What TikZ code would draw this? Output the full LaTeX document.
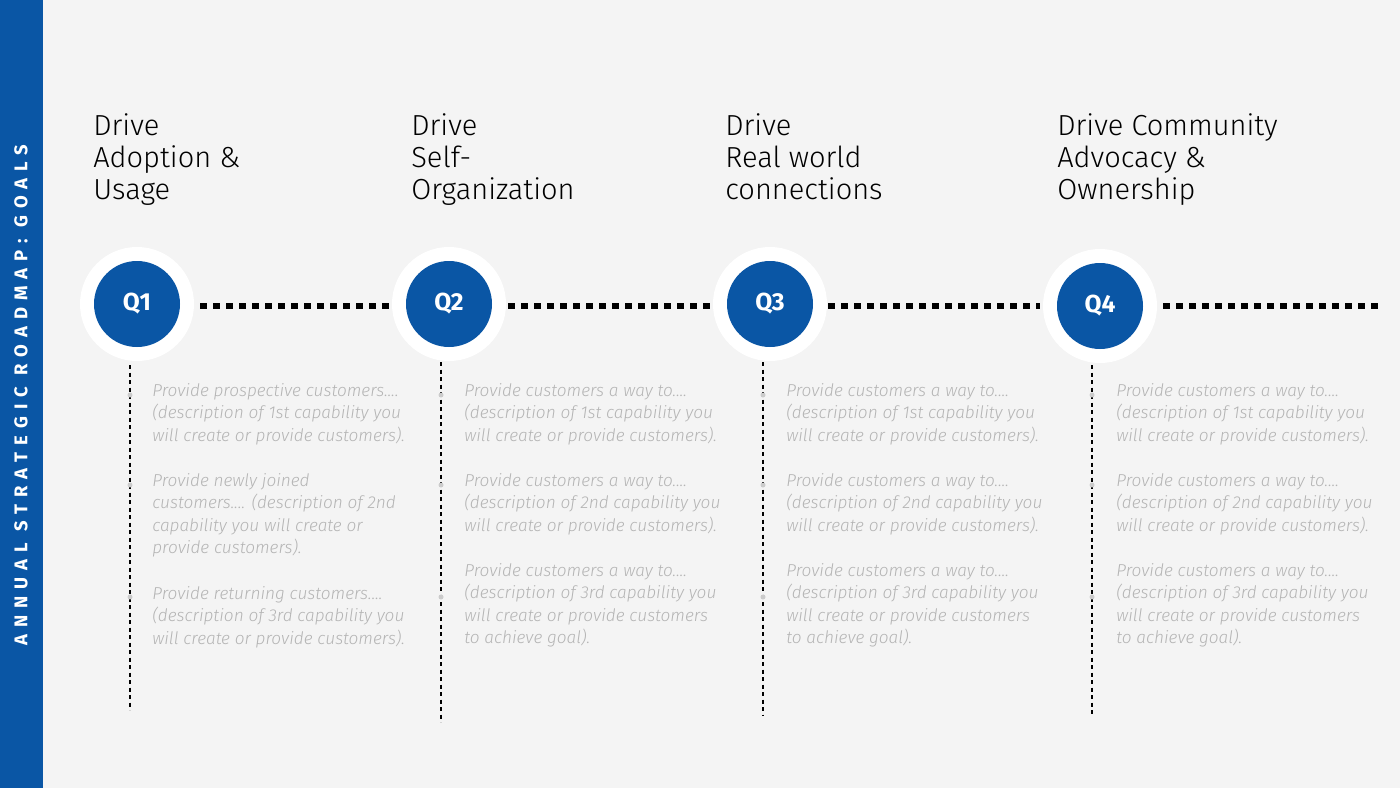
\documentclass[tikz,border=0pt]{standalone}
\usepackage{fontspec}
\setmainfont{Fira Sans Light}
\newfontfamily\sidefont[LetterSpace=38]{Fira Sans Bold}
\newfontfamily\qfont{Fira Sans Bold}
\newfontfamily\bodyfont{Fira Sans Light}
\definecolor{bg}{HTML}{F4F4F4}
\definecolor{navy}{HTML}{0A56A5}
\definecolor{gr}{HTML}{B4B4B4}
\begin{document}
\begin{tikzpicture}[x=0.02cm,y=-0.02cm,
  title/.style={anchor=north west,align=left,font=\fontsize{16.5}{18.2}\selectfont,inner sep=0},
  body/.style={anchor=north west,align=left,text=gr,font=\bodyfont\itshape\fontsize{9.8}{12.8}\selectfont,inner sep=0},
  ring/.style={circle,fill=white,minimum size=114*0.02cm,inner sep=0},
  qdot/.style={circle,fill=navy,minimum size=86*0.02cm,inner sep=0,text=white,font=\qfont\fontsize{14}{14}\selectfont},
  hline/.style={line width=6*0.02cm,dash pattern=on 7*0.02cm off 6*0.02cm},
  vline/.style={line width=2*0.02cm,dash pattern=on 4*0.02cm off 3.5*0.02cm},
  bul/.style={circle,fill=gr!70,minimum size=5*0.02cm,inner sep=0}]
\fill[bg] (0,0) rectangle (1400,788);
\useasboundingbox (0,0) rectangle (1400,788);
\fill[navy] (0,0) rectangle (43,788);
\node[rotate=90,text=white,font=\sidefont\fontsize{10.5}{10.5}\selectfont] (side) at (21,395) {ANNUAL STRATEGIC ROADMAP: GOALS};
% circles
\foreach \n/\x/\y in {1/137/304,2/449/304,3/770/304,4/1100/306}{
  \node[ring] (r\n) at (\x,\y) {};
  \node[qdot] (q\n) at (\x,\y) {Q\n};
}
\coordinate (e1) at (390,306); \coordinate (e2) at (712,306);
\coordinate (e3) at (1040,306); \coordinate (e4) at (1380,306);
\coordinate (s1) at (200,306); \coordinate (s2) at (508,306);
\coordinate (s3) at (828,306); \coordinate (s4) at (1163,306);
\foreach \n in {1,2,3,4}{\draw[hline] (s\n) -- (e\n);}
% vertical lines
\coordinate (v1) at (130,710); \coordinate (v2) at (441,722);
\coordinate (v3) at (763,716); \coordinate (v4) at (1092,716);
\draw[vline] (130,365) -- (v1);
\draw[vline] (441,362) -- (v2);
\draw[vline] (763,362) -- (v3);
\draw[vline] (1092,365) -- (v4);
\foreach \x in {130,441,763,1092}{
  \node[bul] at (\x,395) {}; \node[bul] at (\x,485) {}; \node[bul] at (\x,597) {};}
% titles
\node[title] (t1) at (93,113) {Drive\\Adoption \&\\Usage};
\node[title] (t2) at (411,113) {Drive\\Self-\\Organization};
\node[title] (t3) at (725,113) {Drive\\Real world\\connections};
\node[title] (t4) at (1057,113) {Drive Community\\Advocacy \&\\Ownership};
% bodies
\node[body] (b1a) at (152,383) {Provide prospective customers....\\(description of 1st capability you\\will create or provide customers).};
\node[body] (b1b) at (152,473) {Provide newly joined\\customers.... (description of 2nd\\capability you will create or\\provide customers).};
\node[body] (b1c) at (152,586) {Provide returning customers....\\(description of 3rd capability you\\will create or provide customers).};
\foreach \n/\x in {2/464,3/786,4/1116}{
\node[body] (b\n a) at (\x,383) {Provide customers a way to....\\(description of 1st capability you\\will create or provide customers).};
\node[body] (b\n b) at (\x,473) {Provide customers a way to....\\(description of 2nd capability you\\will create or provide customers).};
\node[body] (b\n c) at (\x,563) {Provide customers a way to....\\(description of 3rd capability you\\will create or provide customers\\to achieve goal).};
}
\end{tikzpicture}
\end{document}
